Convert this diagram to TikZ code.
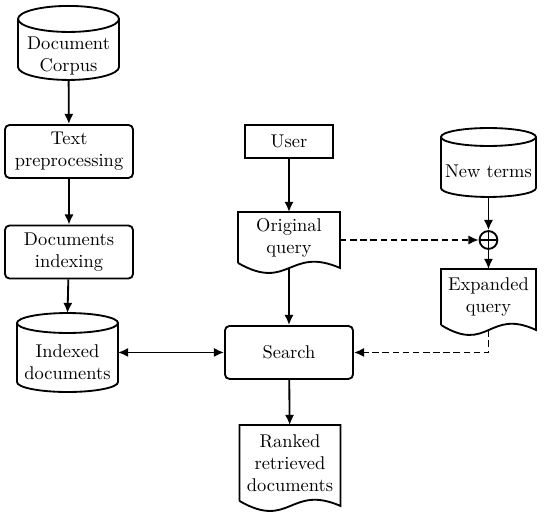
\documentclass[tikz,border=0pt]{standalone}
\usepackage{tikz}
\usetikzlibrary{shapes,arrows,arrows.meta,positioning,calc,fit,backgrounds}

\tikzset{
  block/.style={draw, line width=1pt, rounded corners=2.5pt, minimum width=2.44cm, minimum height=1.01cm, align=center},
  database/.style={align=center, inner sep=1pt, outer sep=0pt},
  document/.style={align=center, inner sep=1pt, outer sep=0pt},
  line/.style={line width=1pt, -{Latex[length=5.5pt,width=5pt]}},
  dline/.style={line, dash pattern=on 3.5pt off 2pt}
}

\begin{document}
\begin{tikzpicture}
  \useasboundingbox (0,0) rectangle (10.475,9.770);
  % left column
  \node[database, minimum width=1.924cm, minimum height=0.914cm] (corpus) at (1.305,8.704) {Document\\Corpus};
  \node[block] (prep) at (1.314,6.885) {Text\\preprocessing};
  \node[block] (index) at (1.314,4.970) {Documents\\indexing};
  \node[database, minimum width=1.924cm, minimum height=1.124cm] (indexed) at (1.286,2.866) {Indexed\\documents};
  % middle column
  \node[draw, line width=1pt, minimum width=1.676cm, minimum height=0.628cm] (user) at (5.504,7.075) {User};
  \node[document, minimum width=1.943cm, minimum height=0.971cm] (origq) at (5.504,5.247) {Original\\query};
  \node[block] (search) at (5.504,3.057) {Search};
  \node[document, minimum width=1.924cm, minimum height=1.447cm] (ranked) at (5.523,0.952) {Ranked\\retrieved\\documents};
  % right column
  \node[database, minimum width=1.809cm, minimum height=0.971cm] (newterms) at (9.303,6.504) {New terms};
  \node[draw, line width=1pt, circle, minimum size=0.34cm, inner sep=0pt] (plus) at (9.303,5.199) {};
  \draw[line width=1pt] (plus.north) -- (plus.south) (plus.west) -- (plus.east);
  \node[document, minimum width=1.809cm, minimum height=1.067cm] (expq) at (9.303,4.114) {Expanded\\query};

  % cylinder outlines
  \foreach \c/\r in {corpus/0.248, indexed/0.19, newterms/0.171} {
    \draw[line width=1pt] let \p1=($(\c.east)-(\c.west)$) in
      ([yshift=\r cm]\c.north) ellipse [x radius=0.5*\x1, y radius=\r cm]
      ([yshift=\r cm]\c.north west) -- ([yshift=\r cm]\c.south west)
      arc [start angle=180, end angle=360, x radius=0.5*\x1, y radius=\r cm]
      -- ([yshift=\r cm]\c.north east);
    \coordinate (\c-top) at ([yshift=2*\r cm]\c.north);
  }
  % document outlines
  \foreach \d in {origq, ranked, expq} {
    \draw[line width=1pt] (\d.south west) -- (\d.north west) -- (\d.north east)
      -- ([yshift=-0.095cm]\d.south east)
      .. controls ([yshift=0.326cm]\d.south) and ([yshift=-0.556cm]\d.south) .. (\d.south west);
    \coordinate (\d-bot) at ([yshift=-0.1cm]\d.south);
  }

  \draw[line] (corpus) -- (prep);
  \draw[line] (prep) -- (index);
  \draw[line] (index) -- (indexed-top);
  \draw[line, {Latex[length=5.5pt,width=5pt]}-{Latex[length=5.5pt,width=5pt]}] (search.west -| indexed.east) -- (search.west);
  \draw[line] (user) -- (origq);
  \draw[line] (origq-bot) -- (search);
  \draw[line] (search) -- (ranked);
  \draw[line] (newterms) -- (plus);
  \draw[line] (plus) -- (expq);
  \draw[dline] (plus.west -| origq.east) -- (plus.west);
  \draw[dline] (expq-bot) |- (search.east);
\end{tikzpicture}
\end{document}
